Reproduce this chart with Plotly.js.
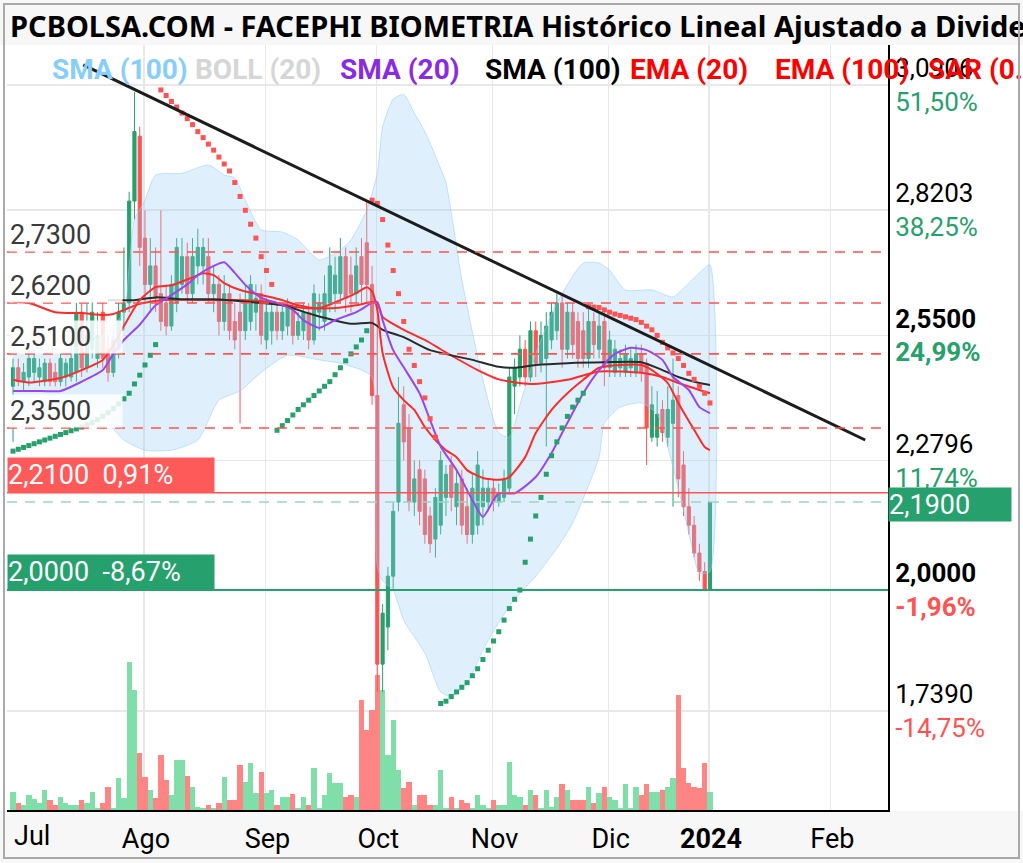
<!DOCTYPE html>
<html><head><meta charset="utf-8">
<script src="https://cdn.plot.ly/plotly-3.0.1.min.js"></script>
<style>
body{margin:0;background:#fff}
#wrap{position:relative;width:1023px;height:863px;overflow:hidden}
#chart{width:1023px;height:863px}
#frame{position:absolute;left:3px;top:3px;width:1017px;height:856px;border:2px solid #a9a9a9;box-sizing:border-box;pointer-events:none}
</style>
</head><body><div id="wrap"><div id="chart"></div><div id="frame"></div></div>
<script>
// ---- DATA (trading-day index: day 0 = 3-jul-2023, first candle = 27-jun-2023) ----
const dayStart = -4;
const open = [
2.44,2.48,2.45,2.46,
2.47,2.46,2.45,2.49,2.47,2.45,2.46,2.46,2.47,2.60,2.48,2.52,2.50,2.60,2.52,2.47,2.52,2.60,2.62,2.84,2.98,
2.76,2.66,2.70,2.64,2.62,2.57,2.62,2.66,2.72,2.64,2.70,2.70,2.72,2.64,2.66,2.58,2.64,2.58,2.60,2.56,2.58,2.60,2.64,
2.54,2.56,2.60,2.56,2.57,2.61,2.55,2.56,2.60,2.54,2.60,2.58,2.62,2.64,2.64,2.72,2.68,2.64,2.72,2.75,2.66,
2.42,1.84,1.92,2.03,2.19,2.40,2.35,2.19,2.26,2.24,2.16,2.11,2.14,2.20,2.27,2.18,2.24,2.18,2.12,2.14,2.18,2.19,
2.22,2.19,2.20,2.22,2.44,2.46,2.52,2.46,2.56,2.49,2.50,2.54,2.56,2.62,2.52,2.60,2.58,2.56,2.50,2.58,2.52,2.58,
2.48,2.47,2.48,2.47,2.48,2.47,2.51,2.49,2.33,2.33,2.39,2.33,2.36,2.42,2.27,2.18,2.14,2.08,2.04,
2.00];
const high = [
2.50,2.50,2.49,2.52,
2.52,2.50,2.50,2.50,2.49,2.51,2.50,2.53,2.62,2.62,2.62,2.63,2.60,2.62,2.55,2.56,2.62,2.74,2.86,3.075,3.00,
2.82,2.76,2.74,2.82,2.66,2.68,2.76,2.76,2.75,2.76,2.78,2.76,2.76,2.70,2.68,2.68,2.66,2.62,2.64,2.66,2.68,2.66,2.66,
2.63,2.62,2.62,2.62,2.63,2.62,2.60,2.62,2.62,2.66,2.64,2.68,2.74,2.72,2.76,2.74,2.72,2.74,2.76,2.84,2.70,
2.62,1.97,2.05,2.19,2.46,2.44,2.38,2.28,2.28,2.26,2.18,2.22,2.30,2.27,2.29,2.26,2.26,2.22,2.25,2.30,2.26,2.24,
2.24,2.23,2.26,2.48,2.50,2.55,2.54,2.58,2.58,2.58,2.60,2.62,2.64,2.64,2.62,2.62,2.60,2.60,2.62,2.60,2.60,2.60,
2.56,2.54,2.52,2.53,2.52,2.53,2.53,2.50,2.44,2.43,2.41,2.44,2.50,2.44,2.30,2.22,2.16,2.10,2.06,
2.19];
const low = [
2.32,2.44,2.43,2.44,
2.45,2.44,2.44,2.44,2.44,2.44,2.44,2.45,2.45,2.46,2.47,2.50,2.48,2.48,2.45,2.46,2.50,2.56,2.60,2.80,2.70,
2.62,2.60,2.60,2.56,2.55,2.56,2.60,2.64,2.62,2.62,2.66,2.66,2.62,2.60,2.55,2.56,2.54,2.52,2.36,2.54,2.56,2.56,2.53,
2.52,2.53,2.54,2.54,2.55,2.53,2.54,2.54,2.52,2.53,2.56,2.56,2.60,2.60,2.62,2.60,2.60,2.62,2.62,2.62,2.40,
1.78,1.78,1.87,2.00,2.17,2.28,2.17,2.16,2.14,2.10,2.08,2.07,2.12,2.16,2.17,2.14,2.12,2.10,2.10,2.12,2.14,2.17,
2.17,2.18,2.19,2.21,2.38,2.44,2.44,2.45,2.46,2.47,2.31,2.52,2.54,2.48,2.50,2.50,2.48,2.48,2.48,2.50,2.50,2.44,
2.46,2.46,2.46,2.46,2.46,2.46,2.45,2.27,2.32,2.31,2.32,2.31,2.18,2.20,2.16,2.12,2.07,2.02,2.00,
2.00];
const close = [
2.48,2.45,2.47,2.50,
2.50,2.48,2.49,2.45,2.45,2.50,2.49,2.50,2.60,2.48,2.55,2.60,2.55,2.50,2.47,2.54,2.60,2.62,2.84,2.99,2.74,
2.66,2.70,2.63,2.58,2.57,2.66,2.74,2.72,2.64,2.72,2.74,2.74,2.64,2.66,2.58,2.64,2.56,2.54,2.56,2.62,2.66,2.63,2.55,
2.60,2.60,2.56,2.60,2.61,2.55,2.58,2.60,2.54,2.64,2.62,2.64,2.70,2.68,2.72,2.63,2.64,2.70,2.66,2.66,2.42,
1.84,1.95,2.03,2.17,2.36,2.32,2.19,2.24,2.17,2.12,2.10,2.20,2.28,2.25,2.20,2.23,2.14,2.12,2.22,2.27,2.22,2.22,
2.19,2.21,2.24,2.46,2.48,2.52,2.46,2.56,2.49,2.55,2.57,2.60,2.62,2.52,2.60,2.53,2.50,2.50,2.58,2.53,2.57,2.48,
2.54,2.52,2.50,2.51,2.50,2.51,2.47,2.35,2.40,2.38,2.34,2.39,2.41,2.24,2.18,2.14,2.08,2.04,2.00,
2.19];
const volume = [
18,7,5,15,
11,7,20,10,5,13,7,5,5,10,7,18,2,7,23,2,32,12,148,120,57,
33,20,12,55,30,15,50,50,34,23,3,2,5,2,7,33,10,10,45,28,47,17,38,
17,20,5,13,13,16,2,13,5,42,2,15,37,27,27,13,15,13,110,80,100,
135,120,55,90,40,22,28,5,15,15,5,5,40,2,13,2,10,7,2,15,5,2,
10,5,5,48,15,13,5,20,15,2,20,3,13,26,20,10,10,10,23,7,17,23,
13,10,2,26,2,23,15,26,18,18,20,23,32,115,42,27,23,22,47,
18];

// indicators (day index, value)
const sma20Day = [-4,0,5,9,13,15,17,20,23,26,29,31,34,36,38,40,43,46,49,51,54,57,61,64,65,66,68,70,73,75,77,80,83,85,87,88,91,95,98,101,104,107,110,113,116,119,121,124,126,128];
const sma20Val = [2.43,2.43,2.43,2.45,2.475,2.51,2.54,2.573,2.615,2.637,2.66,2.68,2.70,2.708,2.685,2.659,2.631,2.62,2.605,2.583,2.566,2.583,2.60,2.62,2.622,2.583,2.518,2.481,2.425,2.367,2.31,2.259,2.194,2.158,2.194,2.209,2.209,2.244,2.296,2.361,2.425,2.475,2.51,2.523,2.518,2.497,2.46,2.432,2.395,2.382];
const ema20Day = [-4,-1,5,9,13,15,17,20,23,26,30,32,34,36,39,43,47,50,54,58,61,63,64,65,66,68,70,72,74,76,78,80,82,85,88,90,93,95,98,101,104,107,111,115,117,120,122,125,127,128];
const ema20Val = [2.454,2.448,2.458,2.475,2.497,2.529,2.57,2.626,2.654,2.658,2.675,2.684,2.68,2.663,2.648,2.637,2.626,2.615,2.609,2.626,2.641,2.654,2.645,2.605,2.512,2.438,2.41,2.389,2.352,2.324,2.302,2.287,2.259,2.242,2.238,2.244,2.287,2.339,2.389,2.425,2.454,2.48,2.486,2.486,2.475,2.447,2.404,2.346,2.309,2.302];
const ema100Day = [-4,-1,4,9,13,15,17,20,24,34,40,46,51,57,61,64,65,66,70,74,77,80,84,88,94,101,107,115,119,122,126,128];
const ema100Val = [2.622,2.62,2.60,2.598,2.594,2.596,2.605,2.618,2.626,2.626,2.626,2.62,2.609,2.609,2.615,2.622,2.62,2.59,2.562,2.54,2.52,2.50,2.475,2.455,2.445,2.454,2.472,2.469,2.46,2.447,2.432,2.425];
const sma100Day = [14,19,23,28,34,41,47,53,60,64,66,70,75,83,88,91,95,101,108,115,119,122,126,128];
const sma100Val = [2.626,2.626,2.632,2.628,2.628,2.622,2.615,2.594,2.575,2.577,2.562,2.546,2.518,2.497,2.482,2.48,2.486,2.49,2.492,2.492,2.475,2.46,2.447,2.443];
const bollUpDay = [-4,5,10,14,17,18,19,21,23,28,33,36,38,40,43,47,50,54,58,60,63,65,66,68,70,72,74,77,78,81,85,88,90,92,95,99,104,107,109,112,117,121,124,126,128];
const bollUpVal = [2.53,2.52,2.53,2.56,2.60,2.70,2.80,2.842,2.896,2.90,2.918,2.896,2.89,2.842,2.778,2.773,2.756,2.713,2.734,2.756,2.82,2.90,3.0,3.06,3.07,3.03,2.99,2.91,2.88,2.67,2.454,2.34,2.33,2.40,2.51,2.62,2.706,2.706,2.69,2.648,2.648,2.633,2.663,2.685,2.702];
const bollLoDay = [-4,5,10,14,17,21,26,31,35,39,43,48,54,58,62,64,65,66,68,70,74,77,79,82,85,88,91,95,99,102,107,108,111,115,118,121,124,126,128];
const bollLoVal = [2.38,2.40,2.40,2.36,2.324,2.302,2.302,2.324,2.41,2.43,2.47,2.507,2.497,2.49,2.475,2.46,2.05,2.02,2.0,1.935,1.864,1.78,1.77,1.80,1.87,1.93,1.98,2.03,2.09,2.145,2.287,2.36,2.395,2.404,2.38,2.266,2.123,2.037,2.04];
// Parabolic SAR dots, by run (first day of each run)
const sarUp1Start = -4;
const sarUp1 = [2.30,2.304,2.308,2.312,2.316,2.32,2.324,2.328,2.332,2.336,2.34,2.344,2.348,2.352,2.357,2.362,2.368,2.375,2.383,2.392,2.402,2.413,2.425,2.445,2.464,2.486,2.507,2.53];
const sarDown1Start = 24;
const sarDown1 = [3.08,3.068,3.055,3.043,3.03,3.018,3.005,2.99,2.977,2.963,2.95,2.935,2.92,2.905,2.88,2.85,2.82,2.79,2.76,2.72,2.69,2.66];
const sarUp2Start = 46;
const sarUp2 = [2.345,2.355,2.366,2.378,2.39,2.40,2.41,2.42,2.43,2.44,2.45,2.465,2.48,2.495,2.51,2.525,2.54,2.56];
const sarDown2Start = 64;
const sarDown2 = [2.842,2.835,2.80,2.745,2.69,2.64,2.58,2.52,2.485,2.45,2.415,2.37,2.33];
const sarUp3Start = 77;
const sarUp3 = [1.755,1.76,1.77,1.78,1.79,1.80,1.815,1.83,1.85,1.87,1.89,1.91,1.935,1.96,1.98,2.0,2.06,2.11,2.16,2.20,2.25,2.29,2.32,2.35,2.375,2.395,2.41,2.425];
const sarDown3Start = 105;
const sarDown3 = [2.612,2.611,2.61,2.605,2.60,2.596,2.593,2.59,2.587,2.584,2.578,2.57,2.562,2.55,2.535,2.523,2.512,2.50,2.485,2.468,2.455,2.44,2.425,2.404];
// trend line (day, price)
const trendDay = [9.3, 157.4];
const trendVal = [3.134, 2.324];
// horizontal levels
const resLevels = [2.73, 2.62, 2.51, 2.35];
const resLabels = ['2,7300','2,6200','2,5100','2,3500'];
const redLevel = 2.21, redLabel = '2,2100&nbsp;&nbsp;0,91%';
const greenLevel = 2.00, greenLabel = '2,0000&nbsp;&nbsp;-8,67%';
const lastPrice = 2.19, lastLabel = '2,1900';
// right axis ticks
const yTickVals = [1.739, 2.0, 2.2796, 2.55, 2.8203, 3.0906];
const yTickPrice = ['1,7390','2,0000','2,2796','2,5500','2,8203','3,0906'];
const yTickPct = ['-14,75%','-1,96%','11,74%','24,99%','38,25%','51,50%'];
const yTickBold = [false,true,false,true,false,false];
// x axis month labels (first trading day index); Jul has no grid line
const firstMonthDay = 0, firstMonthLabel = 'Jul';
const monthStart = [21,44,65,87,109,128,151];
const monthLabels = ['Ago','Sep','Oct','Nov','Dic','<b>2024</b>','Feb'];
// legend entries
const legendNames = ['SMA (100)','BOLL (20)','SMA (20)','SMA (100)','EMA (20)','EMA (100)','SAR (0.02, 0.2)'];
const legendColors = ['#87cefa','#d6d6d6','#8a2be2','#000000','#ff0000','#ff0000','#ff0000'];
const legendPx = [50,193,338,483,628,773,926];

if ([high,low,close,volume].some(a => a.length !== open.length)) throw new Error('length mismatch');

// ---- BUILD ----
const GREEN = '#26a06c', RED = '#ff5252';
const days = open.map((_, k) => dayStart + k);
const runX = (s, arr) => arr.map((_, k) => s + k);
const L = 7, R = 888, T = 45, B = 810;
const pxX = x => (x - L) / (R - L);
const pxY = y => (B - y) / (B - T);

const traces = [];
traces.push({type:'bar', x: days, y: volume, yaxis:'y', xaxis:'x', width: 1,
  marker:{color: days.map((_, k) => close[k] >= open[k] ? '#80dfa9' : '#ff8585'), line:{width:0}},
  hoverinfo:'skip'});
traces.push({type:'scatter', mode:'lines', yaxis:'y2',
  x: bollUpDay.concat(bollLoDay.slice().reverse()),
  y: bollUpVal.concat(bollLoVal.slice().reverse()),
  fill:'toself', fillcolor:'rgba(150,205,245,0.30)', line:{color:'rgba(150,205,245,0.55)', width:1, shape:'spline', smoothing:0.6},
  hoverinfo:'skip'});
traces.push({type:'candlestick', x: days, open, high, low, close, yaxis:'y2',
  increasing:{line:{color:GREEN, width:1}, fillcolor:GREEN},
  decreasing:{line:{color:RED, width:1}, fillcolor:RED},
  whiskerwidth:0, hoverinfo:'skip'});
const lineTrace = (x, y, color, w) => ({type:'scatter', mode:'lines', x, y, yaxis:'y2',
  line:{color, width:w, shape:'spline', smoothing:0.6}, hoverinfo:'skip'});
traces.push(lineTrace(ema100Day, ema100Val, '#ff2b2b', 2));
traces.push(lineTrace(sma100Day, sma100Val, '#2a2a2a', 2));
traces.push(lineTrace(ema20Day, ema20Val, '#ff2b2b', 2));
traces.push(lineTrace(sma20Day, sma20Val, '#9a45f0', 2));
traces.push({type:'scatter', mode:'markers', yaxis:'y2',
  x: runX(sarUp1Start, sarUp1).concat(runX(sarUp2Start, sarUp2), runX(sarUp3Start, sarUp3)),
  y: sarUp1.concat(sarUp2, sarUp3),
  marker:{symbol:'square', size:5, color:GREEN}, hoverinfo:'skip'});
traces.push({type:'scatter', mode:'markers', yaxis:'y2',
  x: runX(sarDown1Start, sarDown1).concat(runX(sarDown2Start, sarDown2), runX(sarDown3Start, sarDown3)),
  y: sarDown1.concat(sarDown2, sarDown3),
  marker:{symbol:'square', size:5, color:RED}, hoverinfo:'skip'});
traces.push({type:'scatter', mode:'lines', x: trendDay, y: trendVal, yaxis:'y2',
  line:{color:'#1c1c1c', width:3}, hoverinfo:'skip'});

const shapes = [];
shapes.push({type:'rect', xref:'paper', yref:'paper', x0: pxX(0), x1: pxX(1023), y0: pxY(45), y1: pxY(0), fillcolor:'#f7f7f7', line:{width:0}, layer:'below'});
shapes.push({type:'rect', xref:'paper', yref:'paper', x0: pxX(0), x1: pxX(1023), y0: pxY(811), y1: pxY(863), fillcolor:'#f7f7f7', line:{width:0}, layer:'below'});
resLevels.forEach(v => shapes.push({type:'line', xref:'paper', yref:'y2', x0:0, x1:1, y0:v, y1:v, line:{color:RED, width:1.6, dash:'10px,8px'}, layer:'above'}));
shapes.push({type:'line', xref:'paper', yref:'y2', x0:0, x1:1, y0:redLevel, y1:redLevel, line:{color:RED, width:1.6}, layer:'above'});
shapes.push({type:'line', xref:'paper', yref:'y2', x0:0, x1:1, y0:lastPrice, y1:lastPrice, line:{color:'#9fd6bd', width:1.6, dash:'10px,8px'}, layer:'above'});
shapes.push({type:'line', xref:'paper', yref:'y2', x0:0, x1:1, y0:greenLevel, y1:greenLevel, line:{color:GREEN, width:2}, layer:'above'});

const FONT = 'Roboto, "Noto Sans", sans-serif';
const annotations = [];
resLevels.forEach((v, k) => annotations.push({xref:'paper', yref:'y2', x:0.002, xanchor:'left', y:v, yanchor:'bottom',
  text: resLabels[k], showarrow:false, font:{family:FONT, size:27, color:'#3a3a3a'}, bgcolor:'rgba(255,255,255,0.85)',
  width:112, align:'left', borderpad:0}));
annotations.push({xref:'paper', yref:'y2', x:0, xanchor:'left', y:redLevel, yanchor:'bottom', text:redLabel, showarrow:false,
  font:{family:FONT, size:27, color:'#fff'}, bgcolor:'#ff5a5a', width:206, height:34, align:'left', borderpad:0});
annotations.push({xref:'paper', yref:'y2', x:0, xanchor:'left', y:greenLevel, yanchor:'bottom', text:greenLabel, showarrow:false,
  font:{family:FONT, size:27, color:'#fff'}, bgcolor:GREEN, width:206, height:34, align:'left', borderpad:0});
annotations.push({xref:'paper', yref:'y2', x:1, xanchor:'left', y:lastPrice, yanchor:'middle', text:lastLabel, showarrow:false,
  font:{family:FONT, size:27, color:'#fff'}, bgcolor:GREEN, width:122, height:33, align:'left', borderpad:0, yshift:-2});
legendNames.forEach((n, k) => annotations.push({xref:'paper', yref:'paper', x: pxX(legendPx[k]), xanchor:'left', y: pxY(69), yanchor:'middle',
  text:'<b>' + n + '</b>', showarrow:false, font:{family:FONT, size:28, color:legendColors[k]}}));
annotations.push({xref:'x', yref:'paper', x: firstMonthDay - 0.4, xanchor:'center', y: pxY(836), yanchor:'middle',
  text: firstMonthLabel, showarrow:false, font:{family:FONT, size:27, color:'#000'}});

const yTickText = yTickVals.map((v, k) => {
  const pc = yTickPct[k].startsWith('-') ? RED : GREEN;
  return yTickBold[k] ? '<b>' + yTickPrice[k] + '</b><br><b><span style="color:' + pc + '">' + yTickPct[k] + '</span></b>'
                      : yTickPrice[k] + '<br><span style="color:' + pc + '">' + yTickPct[k] + '</span>';
});

const layout = {
  width:1023, height:863, paper_bgcolor:'#ffffff', plot_bgcolor:'#ffffff',
  margin:{l:L, r:1023-R, t:T, b:863-B, pad:0},
  showlegend:false, dragmode:false, bargap:0, boxgap:0.15,
  title:{text:'<b>PCBOLSA.COM - FACEPHI BIOMETRIA Histórico Lineal Ajustado a Dividendos</b>', xref:'container', yref:'container',
    x:10/1023, xanchor:'left', y:1-27/863, yanchor:'middle', font:{family:'"Noto Sans", sans-serif', size:29, color:'#000'}},
  xaxis:{range:[-5.14, 161.72], tickvals: monthStart.map(v => v - 0.2), ticktext: monthLabels, showgrid:true, gridcolor:'#e8e8e8', gridwidth:1.5,
    showline:true, linecolor:'#000', linewidth:2, ticks:'', zeroline:false, rangeslider:{visible:false},
    tickfont:{family:FONT, size:27, color:'#000'}, ticklabelstandoff:4, ticklabelshift:2, fixedrange:true},
  yaxis:{range:[0, 765], visible:false, fixedrange:true},
  yaxis2:{overlaying:'y', side:'right', range:[1.525, 3.177], tickvals:yTickVals, ticktext:yTickText, showgrid:true, gridcolor:'#e8e8e8', gridwidth:1.5,
    showline:true, linecolor:'#000', linewidth:2, ticks:'', zeroline:false, tickfont:{family:FONT, size:26, color:'#000'}, fixedrange:true},
  shapes, annotations
};
Plotly.newPlot('chart', traces, layout, {staticPlot:true, displayModeBar:false});
</script></body></html>
